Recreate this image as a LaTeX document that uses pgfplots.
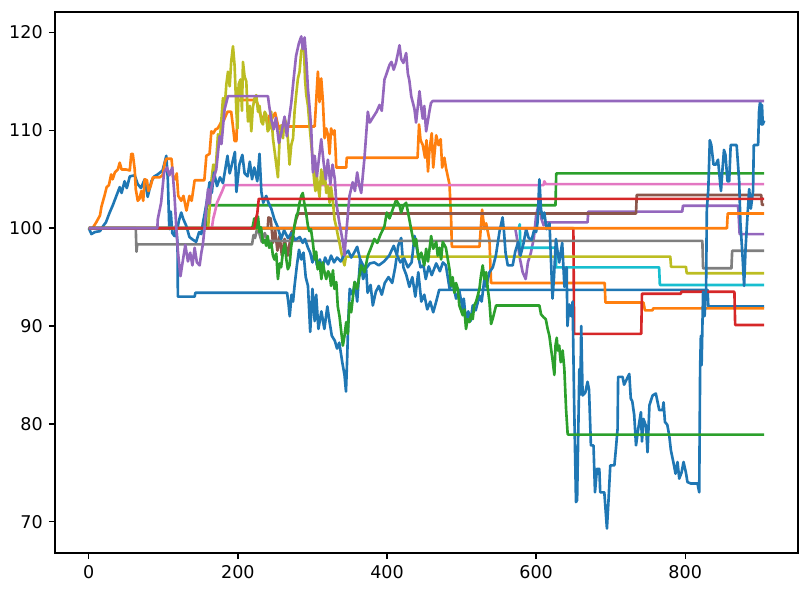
\documentclass[border=0pt]{standalone}
\usepackage{fontspec}
\setmainfont{DejaVu Sans}
\usepackage{pgfplots}
\pgfplotsset{compat=1.18}

% matplotlib tab10
\definecolor{c0}{HTML}{1F77B4}
\definecolor{c1}{HTML}{FF7F0E}
\definecolor{c2}{HTML}{2CA02C}
\definecolor{c3}{HTML}{D62728}
\definecolor{c4}{HTML}{9467BD}
\definecolor{c5}{HTML}{8C564B}
\definecolor{c6}{HTML}{E377C2}
\definecolor{c7}{HTML}{7F7F7F}
\definecolor{c8}{HTML}{BCBD22}
\definecolor{c9}{HTML}{17BECF}

\begin{document}
\begin{tikzpicture}
\begin{axis}[
    scale only axis,
    width=423.7pt, height=308.5pt,
    xmin=-45.3, xmax=951.3,
    ymin=66.8, ymax=122.1,
    xtick={0,200,400,600,800},
    ytick={70,80,90,100,110,120},
    tick align=outside,
    xtick pos=left, ytick pos=left,
    major tick length=3.5pt,
    every tick/.style={black, line width=0.8pt},
    axis line style={line width=0.8pt},
    /pgf/number format/assume math mode=true,
    tick label style={font=\fontsize{10}{12}\selectfont},
    every axis plot/.append style={line width=1.5pt, line join=round, mark=none},
    clip=true,
]
\coordinate (sw) at (rel axis cs:0,0);
\coordinate (ne) at (rel axis cs:1,1);

% 0 blue
\addplot[c0] coordinates {(0,100) (3.6,99.4) (8,99.6) (15,99.7) (20,100.3) (23,100.6) (28,101.6) (32,102.3) (37,103.3) (41.5,104.2) (44,103.6) (48,104.8) (51,104.1) (55,105.3) (61.6,105.4) (65.7,104.5) (70,104.1) (75,105) (79,103.2) (84,104.8) (88,105.3) (92.5,105.5) (99,105.9) (104,107.4) (106,105) (108,99.9) (110,101.7) (112,99.5) (115,99.2) (117,100.3) (119,98.5) (119.5,93.0) (142,93.0) (143,93.4) (266,93.4) (268,92.2) (269.5,91.0) (272,93.2) (274,92.5) (276,94.1) (279,96.1) (282,97.8) (285,96.8) (288,97.5) (291,95.0) (294,94.1) (297,89.4) (300,93.8) (303,90.5) (305,93.2) (308,89.7) (312,91.5) (316,89.7) (320,92.0) (323,90.4) (326,89.0) (330,88.5) (333,87.7) (336,88.3) (340,86.3) (343,85.0) (345,83.3) (346.5,86.5) (348,90.4) (350,93.8) (354,93.2) (357,94.5) (360,92.5) (364,96.8) (368,94.8) (372,95.8) (374,93.4) (378,94.2) (381,92.1) (385,93.5) (389,94.1) (393,93.2) (397,94.4) (402,95.0) (407,94.4) (411,96.0) (415,98.2) (419,99.0) (422,96.0) (426,95.2) (430,94.0) (434,95.0) (438,93.0) (442,95.5) (446,92.5) (450,93.2) (454,91.7) (458,92.5) (462,91.4) (466,92.5) (470,93.7) (830,93.7) (831,92.0) (906,92.0)};

% 1 orange
\addplot[c1] coordinates {(0,100) (5,100) (10,100.6) (15,101.3) (17,102.2) (21,103.3) (24,104.2) (27,104.4) (30,105.5) (32,105) (35,105.7) (39,106) (41.5,106.7) (44,106) (50,106) (55,105.9) (57,107.6) (59,107.6) (61.6,106) (63,104) (65.7,102.8) (68,103) (70.5,103.8) (73,102.8) (75,105) (78,104.9) (80,103.8) (83,104.3) (86,105.2) (95,105.2) (99,105.4) (102,106.7) (104,107.1) (111,107.1) (113,105.3) (116,105) (118,105.6) (120,103.3) (124,102.8) (127,103.3) (131,101.8) (135,103.3) (138,102.8) (142,104.9) (155,104.9) (157.7,107.4) (162,107.6) (164.4,109.9) (167,109.7) (170,110.1) (173,110.2) (178,110.9) (181,111) (186,111.9) (191,111.9) (194,110) (195.6,108.9) (198,108.9) (200,113.1) (222,113.1) (226,112.8) (229,111.9) (233,110.9) (236,111.8) (240,110.5) (242,111.5) (245,111.1) (250,111.8) (255,110.1) (258,110.5) (263,110.4) (303,110.4) (305,113) (307.3,116) (309.5,112.9) (311.8,115.3) (314,113) (316.3,109.2) (318.5,110.2) (321,109.5) (323,107.6) (325,110.2) (327.5,109.6) (329.6,110) (331,108) (332,106.2) (345.3,106.2) (346,107.2) (441,107.2) (443,110.6) (445,109) (448,108.5) (451,107.2) (453,109) (455,105.8) (457,108) (460,109.7) (462,106.2) (466,109.5) (469,108.5) (472,109.1) (474,106.2) (477,107.2) (479,106.2) (483.8,104.5) (486,101) (487,98.1) (524,98.1) (527.6,101.9) (530.6,99.9) (533,100.5) (537.4,98.8) (539.6,94.4) (692,94.4) (693,92.4) (744,92.4) (746,91.6) (756,91.6) (757,91.8) (906,91.8)};

% 2 green
\addplot[c2] coordinates {(0,100) (157,100) (158,102.35) (626,102.35) (627,105.6) (906,105.6)};

% 3 red
\addplot[c3] coordinates {(0,100) (650,100) (651,89.2) (741,89.2) (742,93.3) (794,93.3) (795,93.5) (866,93.5) (867,90.1) (906,90.1)};

% 4 purple
\addplot[c4] coordinates {(0,100) (572,100) (575,98.7) (578,97) (582,95.5) (586,94.8) (589,96.5) (593,97.5) (597,99) (600,101.3) (604,102.6) (607,101) (610,100.3) (612,100.6) (669,100.6) (670,101.7) (796,101.7) (797,102.3) (871,102.3) (873,99.4) (906,99.4)};

% 5 brown
\addplot[c5] coordinates {(0,100) (240,100) (241,101.1) (244,101) (247,98.5) (250,99.8) (253,97.7) (256,99.2) (259,97.2) (262.6,98.9) (267,97.2) (271.6,99.6) (275,99.9) (278,100.9) (281,101.5) (734,101.5) (735,103.4) (902,103.4) (903,102.4) (906,102.4)};

% 6 pink
\addplot[c6] coordinates {(0,100) (165,100) (167,101.0) (169,101.6) (172,102.6) (176,103.3) (179,103.8) (182,104.4) (610,104.4) (611,104.8) (613,104.5) (906,104.5)};

% 7 gray
\addplot[c7] coordinates {(0,100) (63,100) (64,97.6) (65,98.35) (219,98.35) (221,99.3) (223,99) (226,100) (229,99.4) (232,98.6) (236,99.5) (240,98.7) (823,98.7) (824,95.9) (862,95.9) (863,97.7) (906,97.7)};

% 8 olive
\addplot[c8] coordinates {(0,100) (160,100) (162,102) (164.4,104.8) (167,106.5) (170,105.8) (173.3,109.6) (176,109.2) (180,113.3) (182,112) (184.5,114.7) (186.7,116) (189,114.5) (191,117) (193.4,118.6) (195.6,116.6) (198,111.9) (199.5,110.2) (201,114.7) (203.5,115.2) (205.5,112) (206.8,117) (209,115.5) (211.3,115) (213.5,110.9) (216,112.5) (218,109.9) (220,112.3) (222.4,113.3) (224.7,113.6) (227,111.9) (229,112.5) (231.4,110.9) (233.6,110.6) (236,111.9) (238,111.6) (240,109.9) (242.5,110.2) (244.8,111.9) (247,109.2) (249.2,107.9) (251.5,106.5) (253.7,105.2) (256,109.2) (258.3,110.5) (260.5,109.2) (262.6,111.3) (265,110.6) (267,109.2) (269.3,106.5) (271.6,108.5) (274,109.2) (276,111.9) (278,113.5) (280.5,115.3) (282.7,116.0) (285,118.1) (288.5,118.8) (290,115.3) (291.6,113.7) (294,112.5) (296,110.6) (298.4,108.6) (300.6,106.8) (302,105.1) (304,103.8) (305.5,105.7) (307.3,104.3) (309.5,103.2) (311.8,106.0) (314,104.5) (316.3,105.9) (318.5,103.6) (321,104.3) (323,102.6) (325,104.2) (327.5,102.7) (329.6,100.9) (332,100.1) (334,99.3) (336.3,98.5) (338.5,97.6) (340.8,96.8) (343,96.2) (345,97.1) (780,97.1) (781,96.05) (801,96.05) (802,95.4) (906,95.4)};

% 9 cyan
\addplot[c9] coordinates {(0,100) (577,100) (578,100.4) (579,98.0) (626,98.0) (627,96.0) (765,96.0) (766,94.2) (906,94.2)};

% 10 blue
\addplot[c0] coordinates {(0,100) (119,100) (121,100.8) (124,101.6) (127,100.9) (131,100.2) (135,99.1) (140,98.8) (144,98.6) (148,99.6) (151,99.4) (153,100.5) (155,101.3) (158,102.6) (162,104.7) (165,103.6) (168,105.7) (172,104.3) (176,105.2) (180,104.6) (183,106.0) (186,107.4) (189,105.6) (192,106.5) (196,107.8) (198,103.7) (202,106.5) (206,107.5) (209,105.6) (213,105.3) (216,106.8) (219,105.0) (222,106.2) (226,104.8) (229,107.6) (231.5,103.7) (234,102.6) (238,103.3) (241,102.6) (244.8,102.0) (249,100.9) (253,100.2) (258,98.9) (262,99.8) (267,99.0) (272,99.5) (277,98.8) (283,99.1) (287,98.5) (290,98.9) (294,98.0) (297,97.5) (300,96.5) (303,97.6) (306,96.2) (310,96.8) (313,95.8) (317,97.0) (321,96.3) (325,97.2) (329,96.5) (333,97.0) (338,96.6) (343,97.3) (348,97.7) (352,97.0) (356,97.5) (360,98.1) (364,96.8) (368,96.2) (372,95.9) (377,96.4) (383,96.5) (389,96.2) (396,96.6) (403,97.2) (409,98.2) (413,97.3) (418,96.5) (423,96.9) (428,96.0) (433,96.5) (437,99.2) (441,97.5) (445,96.0) (449,96.2) (452,94.8) (456,96.1) (460,95.2) (466,96.4) (471,95.6) (475,96.5) (479,96.2) (484,93.8) (488,94.5) (492.7,92.8) (497,93.6) (501.6,91.7) (503,92.8) (506,90.4) (509,91.5) (512,90.5) (515,92.1) (519,91.6) (524,93.1) (527,92.5) (530.6,94.8) (533,94.0) (537.4,95.5) (542,96.0) (546,97.2) (550.8,99.6) (555,101.1) (557,99.6) (559,97.5) (562,96.2) (568.6,96.2) (572,97.6) (576,98.6) (579,97.2) (583,98.4) (586.6,99.9) (590,99.0) (594,98.8) (597.7,99.9) (600,99.6) (602,100.6) (604.4,105.0) (606.6,101.9) (609,101.0) (611,101.6) (614,99.9) (618,100.5) (622,92.8) (624,95) (626.6,98.9) (629,97.5) (631,96.5) (635,98.5) (638,94.0) (641,96.0) (642,90.0) (644.6,92.2) (647,91.0) (649,92.5) (651,82.2) (653.5,72.0) (655,72.2) (658,85.6) (659.3,83.0) (660.5,90.0) (662.4,82.9) (666,83.2) (669,84.3) (671,83.5) (673.5,77.8) (677,77.8) (679,73.0) (681.6,75.4) (684.8,75.4) (686,73.0) (691.5,73.0) (695,69.3) (697,72.0) (699.5,75.75) (705,75.75) (707,77.4) (709.3,79.5) (710,84.8) (716,84.8) (718,84.0) (725,85.1) (727,82.6) (729,82.3) (731.6,80.9) (734,77.8) (737,79.5) (740.6,81.2) (742,78.2) (744,80.5) (747.3,79.8) (749.5,77.1) (752,81.9) (756.2,82.9) (760.6,83.1) (765.2,81.4) (769.6,81.4) (771,82.2) (772.8,80.2) (776,79.9) (778.6,78.8) (780.8,77.3) (785,75.75) (787,74.9) (789.7,76.1) (792,74.4) (795,75.0) (797.8,76.1) (801,75.0) (803,74.05) (807.6,73.9) (816.5,73.9) (818.8,73.0) (820,85.6) (821,89.0) (822,86.0) (824,93.5) (826,91.0) (828,93.8) (829,101.9) (831,104.0) (833,109.0) (835,108.5) (838,106.5) (841,106.5) (844,107.0) (847,104.5) (848,103.8) (850,106.0) (852,108.0) (854,107.5) (856.7,104.8) (859,104.8) (861,108.5) (869,108.5) (872.4,104.8) (874,100.6) (877,97.0) (879,94.1) (881,98.0) (883,100.6) (885.8,104.0) (888,102.0) (891,103.8) (892,108.5) (897.8,108.5) (899,111.9) (900.5,113.0) (902,110.6) (903,112.6) (904,110.6) (906,111.0)};

% 11 orange
\addplot[c1] coordinates {(0,100) (856,100) (857,101.5) (906,101.5)};

% 12 green
\addplot[c2] coordinates {(0,100) (218,100) (220,100.2) (222,101.0) (225,100.0) (227,101.2) (229,99.6) (231,100.1) (233.6,98.5) (236,98.8) (238,98.2) (240,99.2) (242,98.0) (244.8,98.5) (247,97.2) (249,96.8) (251.5,97.4) (253.7,94.8) (256,96.4) (258,96.0) (260.5,97.6) (263,98.4) (265,96.8) (267,95.8) (269.3,96.2) (271.6,98.2) (274,99.2) (276,100.3) (278.5,101.3) (280.5,101.6) (282.7,102.6) (285,103.3) (287,103.6) (289,102.6) (291.8,101.4) (294,100.2) (296,99.7) (298,99.9) (300.6,98.5) (303,96.8) (305,97.6) (307,95.8) (309.5,96.5) (312,94.8) (314,96.5) (316,95.6) (318.5,94.8) (321,95.6) (323,95.3) (325,94.1) (327.5,95.7) (329.6,93.8) (332,94.5) (334,92.0) (336.3,91.0) (338.5,89.5) (340.8,88.0) (343,89.0) (345.3,90.4) (347.5,89.2) (349.7,92.4) (352,91.4) (356.5,94.5) (360,93.8) (365.4,96.2) (369.8,95.5) (374.3,97.2) (378,97.9) (383,98.9) (387,98.5) (391,99.3) (396.6,100.2) (399.7,101.6) (403.4,101.0) (408,102.0) (412.3,102.9) (416.8,102.3) (419,101.6) (422,102.3) (425.7,102.6) (429,101.3) (432.4,99.9) (436.8,98.2) (439,98.9) (442.6,96.8) (446,97.5) (450,96.2) (452.5,97.9) (455,96.6) (459.2,99.2) (462,97.9) (466,98.6) (468,97.2) (470.4,98.0) (472.6,96.8) (474.8,98.6) (479,98.0) (483.8,95.8) (486,94.1) (488,95.0) (490.4,93.4) (492.6,94.4) (495,93.8) (497,92.1) (501.6,91.1) (503.8,91.7) (506,89.7) (508,90.7) (510.6,90.4) (513,91.2) (515,90.7) (517,92.1) (519.5,92.5) (521.7,93.1) (524,93.8) (526,95.1) (528.4,96.2) (530.6,94.8) (533,95.5) (535.2,93.8) (537.4,92.5) (539.6,90.2) (542,90.8) (546.3,92.1) (604.4,92.1) (606.6,91.2) (610,90.9) (613,90.7) (615.5,89.7) (617.8,89.0) (620,87.7) (622,86.6) (624.5,85.0) (626,88.0) (627.7,88.8) (629,87.5) (631,88.0) (633,86.3) (635.6,87.5) (637.9,85.6) (639,83.6) (640.2,81.5) (642.3,79.0) (643,78.9) (906,78.9)};

% 13 red
\addplot[c3] coordinates {(0,100) (222,100) (224,100.9) (226,101.5) (228,103) (906,103)};

% 14 purple
\addplot[c4] coordinates {(0,100) (92,100) (92.5,100.9) (97,102.6) (101,105.7) (105,106.2) (108,105.4) (112,106.2) (115,103.3) (117.5,99.9) (119.7,97.5) (121,96.5) (123,95.1) (126,96.6) (129.5,98.3) (133,96.6) (136,97.5) (139,96.2) (142,98.0) (145,96.5) (148.7,96.2) (151,97.5) (153,98.3) (155.4,100.1) (157.5,102.1) (160,104.0) (162,102.5) (164,104.0) (167,105.0) (171,106.0) (173,107.5) (175.5,109.4) (178,108.6) (182,112.1) (186.7,113.5) (240.3,113.5) (242,112.5) (244.8,111.1) (248,110.1) (251,111.3) (255,108.7) (258.5,109.8) (262.6,111.4) (265.7,109.4) (268.5,111.1) (271.6,112.8) (274.7,115.2) (278,117.6) (281.8,118.9) (285,119.6) (287,118.3) (289.5,119.5) (291.8,117.2) (294,114.2) (296,112.5) (298.4,110.1) (300.6,105.7) (303,107.4) (306,105.3) (309,107.3) (311.8,109.1) (315,106.7) (318,105.0) (320.7,107.0) (324,104.5) (327,106.5) (330,105.0) (332,102.6) (336,100.6) (340.8,98.6) (343,97.2) (345,99.2) (349.7,103.3) (354,104.7) (357,103.8) (360,105.7) (363,104.3) (365.4,103.6) (369.8,107.2) (374.3,111.9) (377,110.8) (381,111.3) (386,111.9) (390,112.6) (393,112.0) (396.6,115.2) (399,115.7) (403.4,116.7) (406,117.0) (409,116.2) (412,116.9) (416.8,118.7) (419,117.3) (422,116.9) (425.7,117.9) (428,115.8) (430,115.1) (432.5,113.5) (436.8,112.2) (439,110.8) (443.6,114.0) (446,112.3) (448,111.2) (450,112.5) (452.5,109.9) (454.7,110.9) (457,112.0) (459,112.8) (461.4,113.0) (906,113.0)};

\end{axis}
\pgfresetboundingbox
\path[use as bounding box] ([shift={(-31.37pt,-25.09pt)}]sw) rectangle ([shift={(7.41pt,6.84pt)}]ne);
\end{tikzpicture}
\end{document}
